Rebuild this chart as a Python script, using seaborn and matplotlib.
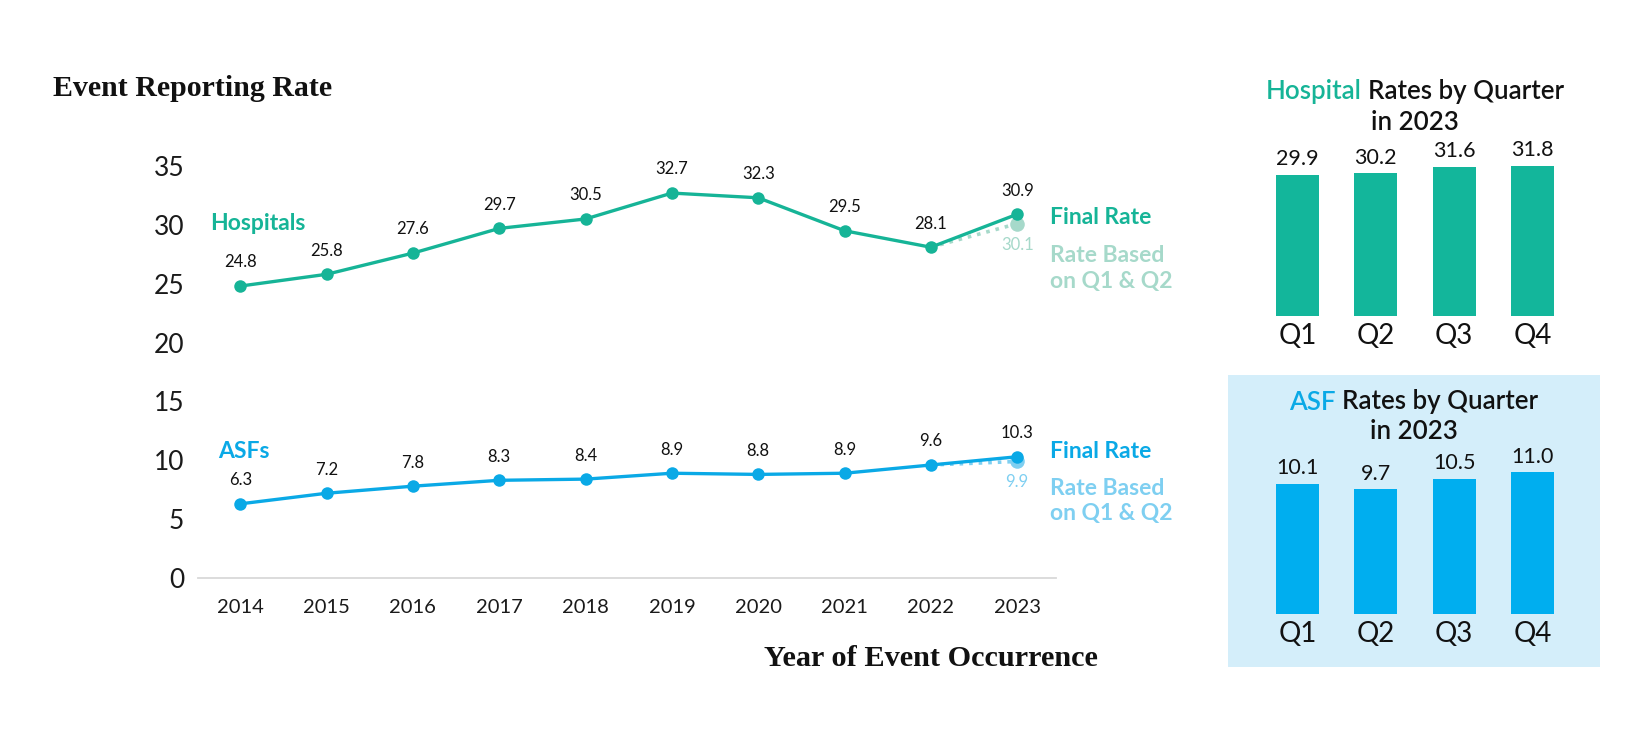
import matplotlib
matplotlib.use('Agg')
import matplotlib.pyplot as plt
import seaborn as sns
import pandas as pd
from matplotlib.patches import Rectangle

# ---------------- data ----------------
years = list(range(2014, 2024))
hospital_rates = [24.8, 25.8, 27.6, 29.7, 30.5, 32.7, 32.3, 29.5, 28.1, 30.9]
asf_rates = [6.3, 7.2, 7.8, 8.3, 8.4, 8.9, 8.8, 8.9, 9.6, 10.3]
hospital_partial_2023 = 30.1
asf_partial_2023 = 9.9
quarters = ['Q1', 'Q2', 'Q3', 'Q4']
hospital_quarter_rates = [29.9, 30.2, 31.6, 31.8]
asf_quarter_rates = [10.1, 9.7, 10.5, 11.0]
y_ticks = [0, 5, 10, 15, 20, 25, 30, 35]

# ---------------- style ----------------
TEAL = '#16b497'
TEAL_BAR = '#13b69b'
LTEAL = '#a6d9ca'
BLUE = '#0aa9e6'
BLUE_BAR = '#00aeef'
LBLUE = '#7ecff1'
BOX = '#d4eefa'
SERIF = ['Liberation Serif', 'DejaVu Serif']

sns.set_theme(style='white')
plt.rcParams['font.family'] = ['Lato', 'DejaVu Sans']

W, H = 1651, 733
fig = plt.figure(figsize=(W / 100, H / 100), dpi=100)
fig.patch.set_facecolor('white')


def fx(px):
    return px / W


def fy(py):
    return 1 - py / H


# ---------------- main line chart ----------------
ax = fig.add_axes([fx(198), fy(578), fx(1056) - fx(198), fy(166) - fy(578)])
ax.set_facecolor('none')

df = pd.DataFrame({
    'year': years * 2,
    'rate': hospital_rates + asf_rates,
    'series': ['Hospitals'] * len(years) + ['ASFs'] * len(years),
})

# projected (Q1 & Q2 based) segments, drawn behind
for vals, partial, col in [(hospital_rates, hospital_partial_2023, LTEAL),
                           (asf_rates, asf_partial_2023, LBLUE)]:
    seg = pd.DataFrame({'year': [years[-2], years[-1]], 'rate': [vals[-2], partial]})
    sns.lineplot(data=seg, x='year', y='rate', color=col, linestyle=':',
                 linewidth=2.6, ax=ax, zorder=1)
    sns.scatterplot(x=[years[-1]], y=[partial], color=col, s=110,
                    linewidth=0, ax=ax, zorder=1)

sns.lineplot(data=df, x='year', y='rate', hue='series',
             palette={'Hospitals': TEAL, 'ASFs': BLUE},
             marker='o', markersize=9, markeredgewidth=0, linewidth=2.4,
             legend=False, ax=ax, zorder=3)

ax.set_xlim(2013.51, 2023.45)
ax.set_ylim(0, 35)
ax.set_yticks(y_ticks)
ax.set_yticklabels([str(t) for t in y_ticks])
ax.set_xticks(years)
ax.set_xticklabels([str(y) for y in years])
ax.tick_params(axis='y', length=0, pad=10, labelsize=19, labelcolor='#1a1a1a')
ax.tick_params(axis='x', length=0, pad=15, labelsize=14.5, labelcolor='#1a1a1a')
ax.set_xlabel('')
ax.set_ylabel('')
for s in ['top', 'right', 'left']:
    ax.spines[s].set_visible(False)
ax.spines['bottom'].set_color('#d9d9d9')
ax.spines['bottom'].set_linewidth(1.3)

# value labels
for vals in (hospital_rates, asf_rates):
    for yr, v in zip(years, vals):
        ax.annotate(f'{v:.1f}', (yr, v), xytext=(0, 17), textcoords='offset points',
                    ha='center', va='center', fontsize=12, color='#111111')
ax.annotate(f'{hospital_partial_2023:.1f}', (years[-1], hospital_partial_2023),
            xytext=(0, -15), textcoords='offset points', ha='center', va='center',
            fontsize=12, color=LTEAL)
ax.annotate(f'{asf_partial_2023:.1f}', (years[-1], asf_partial_2023),
            xytext=(0, -15), textcoords='offset points', ha='center', va='center',
            fontsize=12, color=LBLUE)

# series labels
ax.annotate('Hospitals', (years[0], hospital_rates[0]), xytext=(-22, 45),
            textcoords='offset points', ha='left', va='center',
            fontsize=16.5, color=TEAL, fontweight='bold')
ax.annotate('ASFs', (years[0], asf_rates[0]), xytext=(-16, 38),
            textcoords='offset points', ha='left', va='center',
            fontsize=16.5, color=BLUE, fontweight='bold')

# right-hand annotations
for val, col, lcol, dy1, dy2 in [(hospital_rates[-1], TEAL, LTEAL, -2, -39),
                                 (asf_rates[-1], BLUE, LBLUE, 4, -32)]:
    ax.annotate('Final Rate', (years[-1], val), xytext=(24, dy1),
                textcoords='offset points', ha='left', va='center',
                fontsize=16.5, color=col, fontweight='bold')
    ax.annotate('Rate Based\non Q1 & Q2', (years[-1], val), xytext=(24, dy2),
                textcoords='offset points', ha='left', va='center',
                fontsize=16.5, color=lcol, fontweight='bold', linespacing=1.25)

fig.text(fx(53), fy(88), 'Event Reporting Rate', ha='left', va='center',
         fontsize=21.5, fontweight='bold', family=SERIF, color='#111111')
fig.text(fx(1098), fy(658), 'Year of Event Occurrence', ha='right', va='center',
         fontsize=21.8, fontweight='bold', family=SERIF, color='#111111')

# ---------------- quarter panels ----------------
fig.patches.append(Rectangle((fx(1228), fy(667)), fx(1600) - fx(1228), fy(375) - fy(667),
                             transform=fig.transFigure, facecolor=BOX,
                             edgecolor='none', zorder=0))


def bar_panel(bottom_px, unit_px, ymax, vals, color):
    left = 1297.5 - 39.17
    width = 4 * 78.33
    top_px = bottom_px - ymax * unit_px
    a = fig.add_axes([fx(left), fy(bottom_px), fx(width), fy(top_px) - fy(bottom_px)])
    a.set_zorder(2)
    a.set_facecolor('none')
    qdf = pd.DataFrame({'quarter': quarters, 'rate': vals})
    sns.barplot(data=qdf, x='quarter', y='rate', color=color, saturation=1,
                width=0.55, linewidth=0, edgecolor='none', ax=a)
    a.set_ylim(0, ymax)
    a.set_xlim(-0.5, 3.5)
    a.set_yticks([])
    a.set_xlabel('')
    a.set_ylabel('')
    a.tick_params(axis='x', length=0, pad=5, labelsize=20, labelcolor='#111111')
    for s in a.spines.values():
        s.set_visible(False)
    a.bar_label(a.containers[0], fmt='%.1f', padding=4, fontsize=15.5, color='#111111')
    return a


bar_panel(316, 4.72, 35, hospital_quarter_rates, TEAL_BAR)
bar_panel(614, 12.88, 12, asf_quarter_rates, BLUE_BAR)

renderer = fig.canvas.get_renderer()
TFS = 18.6


def two_color_title(cx_px, y_px, colored, rest, color):
    full = fig.text(0, 0, colored + ' ' + rest, fontsize=TFS, fontweight='semibold')
    wfull = full.get_window_extent(renderer).width
    full.remove()
    x0 = cx_px - wfull / 2
    fig.text(fx(x0), fy(y_px), colored, ha='left', va='center', fontsize=TFS,
             fontweight='semibold', color=color, zorder=3)
    fig.text(fx(x0 + wfull), fy(y_px), rest, ha='right', va='center', fontsize=TFS,
             fontweight='semibold', color='#111111', zorder=3)


two_color_title(1415, 92, 'Hospital', 'Rates by Quarter', TEAL)
fig.text(fx(1415), fy(122), 'in 2023', ha='center', va='center', fontsize=TFS,
         fontweight='semibold', color='#111111', zorder=3)
two_color_title(1414, 402, 'ASF', 'Rates by Quarter', BLUE)
fig.text(fx(1414), fy(432), 'in 2023', ha='center', va='center', fontsize=TFS,
         fontweight='semibold', color='#111111', zorder=3)

fig.savefig('out.png', dpi=100, facecolor='white')
